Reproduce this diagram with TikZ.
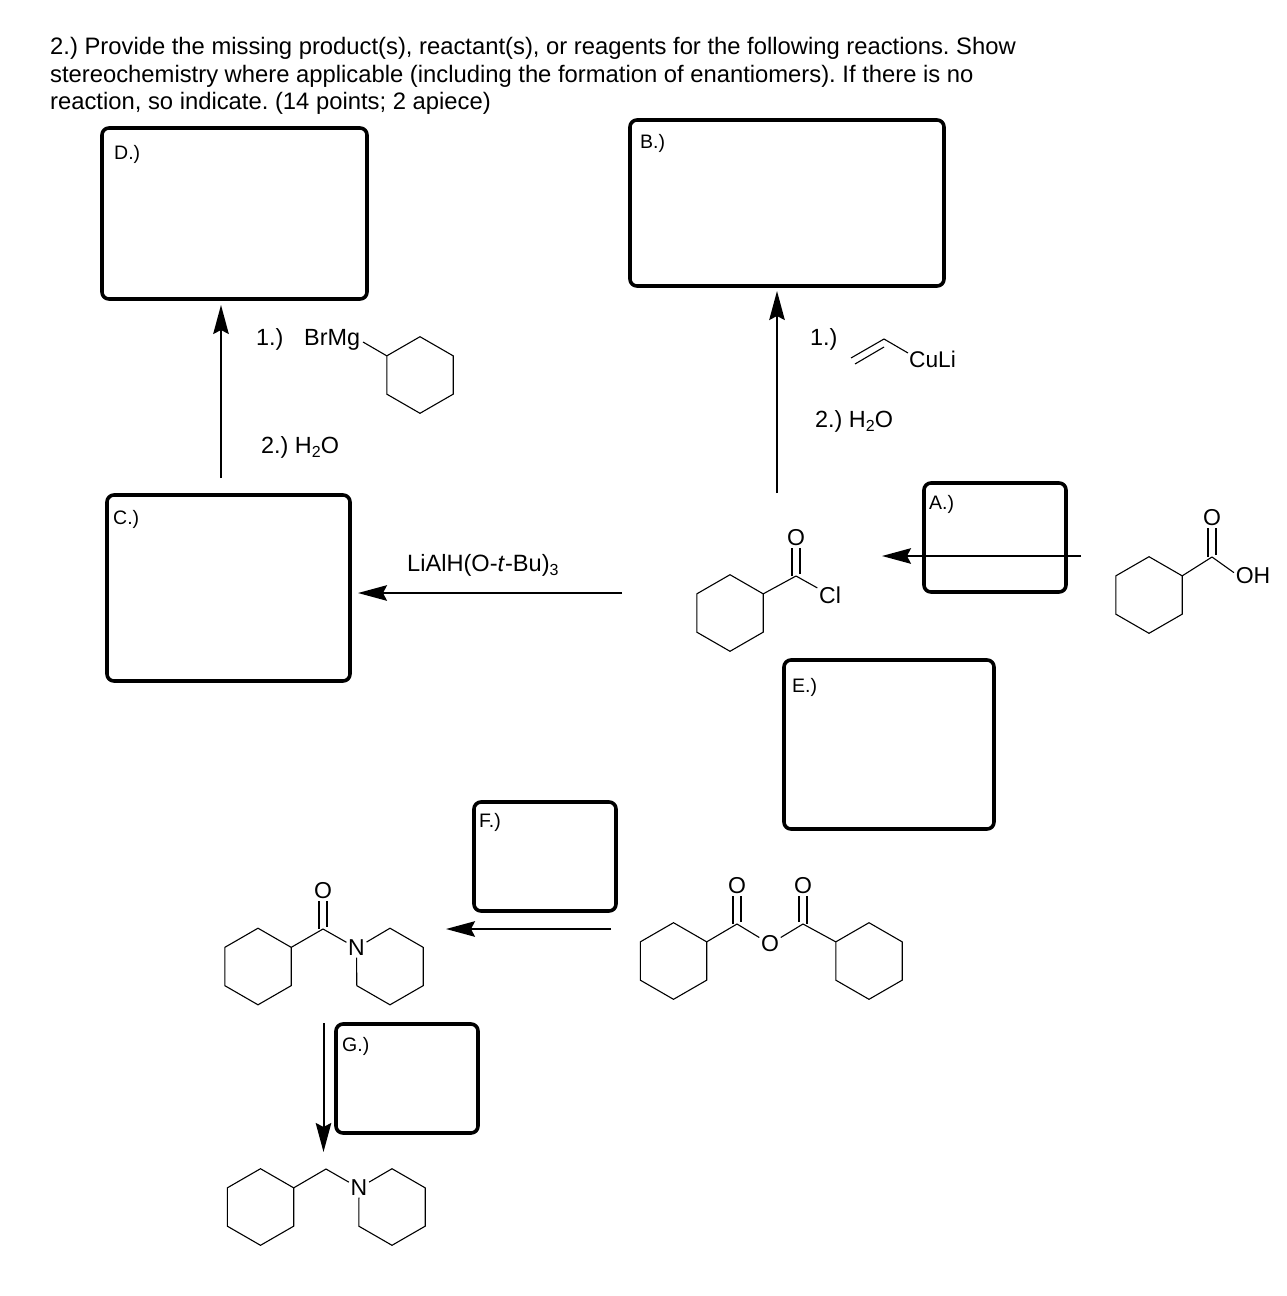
\documentclass[tikz,border=0pt]{standalone}
\usepackage{fontspec}
\setmainfont{Liberation Sans}
\usetikzlibrary{arrows.meta}
\frenchspacing
\newcommand{\fsz}[1]{\fontsize{#1}{#1}\selectfont}
\newcommand{\subnum}[1]{\raisebox{-4.5pt}{\fsz{16}#1}}
\newcommand{\ringat}[3]{%
  \coordinate (#11) at (#2,#3-38.3);
  \coordinate (#12) at (#2+33.2,#3-19.15);
  \coordinate (#13) at (#2+33.2,#3+19.15);
  \coordinate (#14) at (#2,#3+38.3);
  \coordinate (#15) at (#2-33.2,#3+19.15);
  \coordinate (#16) at (#2-33.2,#3-19.15);
}
\tikzset{
  answerbox/.style={draw=black,line width=3.6pt,rounded corners=7pt},
  boxlabel/.style={anchor=base west,inner sep=0pt,font=\fsz{19.5}},
  txt/.style={anchor=base west,inner sep=0pt,font=\fsz{23.4}},
  titletxt/.style={anchor=base west,inner sep=0pt,font=\fsz{23.8}},
  atomlbl/.style={inner sep=1.6pt,font=\fsz{23}},
  bond/.style={line width=1.1pt,line join=miter},
  rxn/.style={line width=2pt,-{Stealth[length=29pt,width=15.5pt,inset=4pt]}},
}
\begin{document}
\begin{tikzpicture}[x=1pt,y=-1pt]
\useasboundingbox (0,0) rectangle (1286,1296);
\fill[white] (0,0) rectangle (1286,1296);

% title
\node[titletxt] (t1) at (50,54) {2.) Provide the missing product(s), reactant(s), or reagents for the following reactions. Show};
\node[titletxt] (t2) at (50,82) {stereochemistry where applicable (including the formation of enantiomers). If there is no};
\node[titletxt] (t3) at (50,109) {reaction, so indicate. (14 points; 2 apiece)};

% boxes
\draw[answerbox] (102,128) rectangle (367,299);
\node[boxlabel] (ld) at (114,159) {D.)};
\draw[answerbox] (630,120) rectangle (944,286);
\node[boxlabel] (lb) at (640,148) {B.)};
\draw[answerbox] (107,495) rectangle (350,681);
\node[boxlabel] (lc) at (113,524) {C.)};
\draw[answerbox] (924,483) rectangle (1066,592);
\node[boxlabel] (la) at (929,509) {A.)};
\draw[answerbox] (784,660) rectangle (994,829);
\node[boxlabel] (le) at (792,692) {E.)};
\draw[answerbox] (474,802) rectangle (616,911);
\node[boxlabel] (lf) at (479,827) {F.)};
\draw[answerbox] (336,1024) rectangle (478,1133);
\node[boxlabel] (lg) at (342,1051) {G.)};

% reaction arrows
\coordinate (a1s) at (221,478); \coordinate (a1e) at (221,305);
\coordinate (a2s) at (777,493); \coordinate (a2e) at (777,291);
\coordinate (a3s) at (622,593); \coordinate (a3e) at (358,593);
\coordinate (a4s) at (1081,556); \coordinate (a4e) at (882,556);
\coordinate (a5s) at (611,929); \coordinate (a5e) at (446,929);
\coordinate (a6s) at (323.5,1023); \coordinate (a6e) at (323.5,1152);
\draw[rxn] (a1s) -- (a1e);
\draw[rxn] (a2s) -- (a2e);
\draw[rxn] (a3s) -- (a3e);
\draw[rxn] (a4s) -- (a4e);
\draw[rxn] (a5s) -- (a5e);
\draw[rxn] (a6s) -- (a6e);

% reagents, D
\node[txt] (r1a) at (256,345) {1.)};
\node[txt] (r1b) at (304,345) {BrMg};
\node[txt] (r1c) at (261,453) {2.) H\subnum{2}O};
\ringat{g}{420}{375}
\coordinate (mgb) at (363,342);
\draw[bond] (g1)--(g2)--(g3)--(g4)--(g5)--(g6)--cycle;
\draw[bond] (g6)--(mgb);

% reagents, B
\node[txt] (r2a) at (810,345) {1.)};
\node[txt] (r2c) at (815,427) {2.) H\subnum{2}O};
\node[anchor=base west,inner sep=0pt,font=\fsz{22.7}] (culi) at (909,367) {CuLi};
\coordinate (v1) at (851,358); \coordinate (v2) at (884,339); \coordinate (v3) at (908,353);
\coordinate (v1b) at (855,364); \coordinate (v2b) at (884,347);
\draw[bond] (v1)--(v2)--(v3);
\draw[bond] (v1b)--(v2b);

% reagent, C
\node[anchor=base west,inner sep=0pt,font=\fsz{23.6}] (r3) at (407,571) {LiAlH(O-\textit{t}-Bu)\subnum{3}};

% acid chloride
\ringat{p}{730}{613}
\draw[bond] (p1)--(p2)--(p3)--(p4)--(p5)--(p6)--cycle;
\coordinate (pc) at (796,576);
\node[atomlbl] (po) at (796,538) {O};
\node[atomlbl] (pcl) at (830,595) {Cl};
\draw[bond] (p2)--(pc);
\draw[bond] (pc)--(pcl);
\draw[bond] ([xshift=-4pt]pc)--([xshift=-4pt]po.south);
\draw[bond] ([xshift=4pt,yshift=2pt]pc)--([xshift=4pt]po.south);

% acid
\ringat{q}{1149}{595}
\draw[bond] (q1)--(q2)--(q3)--(q4)--(q5)--(q6)--cycle;
\coordinate (qc) at (1212,557);
\node[atomlbl] (qo) at (1212,518) {O};
\node[atomlbl] (qoh) at (1253,576) {OH};
\draw[bond] (q2)--(qc);
\draw[bond] (qc)--(qoh.170);
\draw[bond] ([xshift=-4pt]qc)--([xshift=-4pt]qo.south);
\draw[bond] ([xshift=4pt,yshift=2pt]qc)--([xshift=4pt]qo.south);

% amide
\ringat{m}{258}{966.5}
\draw[bond] (m1)--(m2)--(m3)--(m4)--(m5)--(m6)--cycle;
\coordinate (mc) at (323,929);
\node[atomlbl] (mo) at (323,891) {O};
\node[atomlbl] (mn) at (356.5,948) {N};
\ringat{n}{390}{966.5}
\draw[bond] (m2)--(mc)--(mn);
\draw[bond] ([xshift=-4pt]mc)--([xshift=-4pt]mo.south);
\draw[bond] ([xshift=4pt,yshift=2pt]mc)--([xshift=4pt]mo.south);
\draw[bond] (mn)--(n1)--(n2)--(n3)--(n4)--(n5)--(mn);

% anhydride
\ringat{s}{673.5}{961}
\ringat{u}{869}{961}
\draw[bond] (s1)--(s2)--(s3)--(s4)--(s5)--(s6)--cycle;
\draw[bond] (u1)--(u2)--(u3)--(u4)--(u5)--(u6)--cycle;
\coordinate (sc) at (737,924);
\coordinate (uc) at (803,924);
\node[atomlbl] (so) at (737,886) {O};
\node[atomlbl] (uo) at (803,886) {O};
\node[atomlbl] (ao) at (770,944) {O};
\draw[bond] (s2)--(sc)--(ao)--(uc)--(u6);
\draw[bond] ([xshift=-4pt]sc)--([xshift=-4pt]so.south);
\draw[bond] ([xshift=4pt,yshift=2pt]sc)--([xshift=4pt]so.south);
\draw[bond] ([xshift=-4pt,yshift=2pt]uc)--([xshift=-4pt]uo.south);
\draw[bond] ([xshift=4pt]uc)--([xshift=4pt]uo.south);

% amine
\ringat{w}{260.5}{1207}
\ringat{x}{392}{1207}
\draw[bond] (w1)--(w2)--(w3)--(w4)--(w5)--(w6)--cycle;
\coordinate (wc) at (326,1169);
\node[atomlbl] (wn) at (359,1188) {N};
\draw[bond] (w2)--(wc)--(wn);
\draw[bond] (wn)--(x1)--(x2)--(x3)--(x4)--(x5)--(wn);
\end{tikzpicture}
\end{document}
